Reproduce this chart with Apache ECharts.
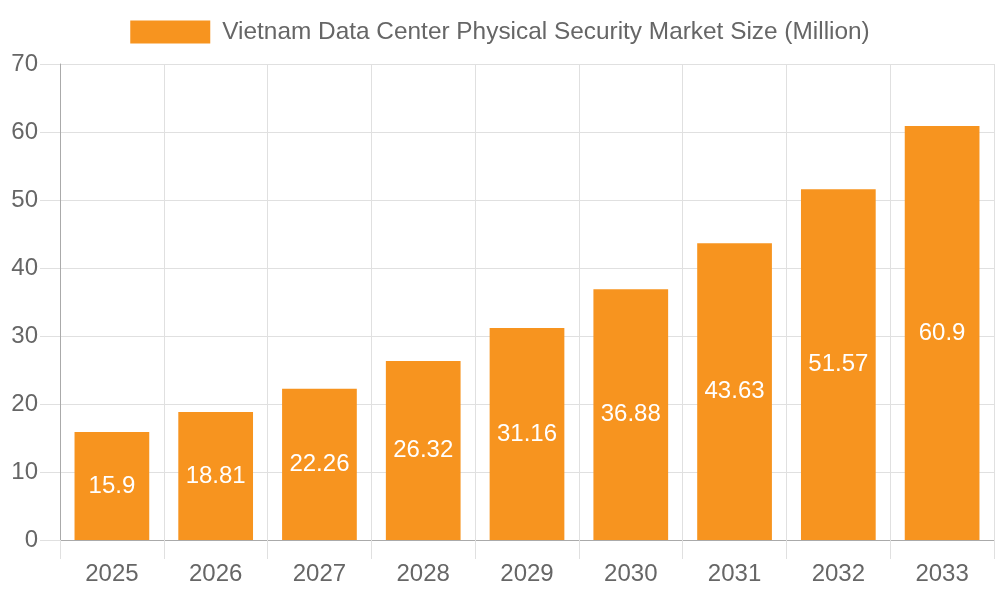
<!DOCTYPE html>
<html><head><meta charset="utf-8">
<script src="https://cdn.jsdelivr.net/npm/echarts@6/dist/echarts.min.js"></script>
<style>html,body{margin:0;padding:0;background:#fff}#c{width:1000px;height:600px}</style>
</head><body><div id="c"></div>
<script>
const categories = ['2025','2026','2027','2028','2029','2030','2031','2032','2033'];
const values = [15.9, 18.81, 22.26, 26.32, 31.16, 36.88, 43.63, 51.57, 60.9];
const seriesName = 'Vietnam Data Center Physical Security Market Size (Million)';
const chart = echarts.init(document.getElementById('c'), null, {renderer:'canvas'});
chart.setOption({
  animation: false,
  textStyle: {fontFamily: 'Liberation Sans, Arial, sans-serif'},
  legend: {
    top: 15, left: 'center',
    itemWidth: 80, itemHeight: 23, itemGap: 10,
    textStyle: {color: '#666', fontSize: 24.4, fontFamily: 'Liberation Sans', padding: [0,0,0,7], lineHeight: 23},
    data: [{name: seriesName, icon: 'rect'}]
  },
  grid: {left: 60, right: 6, top: 64, bottom: 60, containLabel: false},
  xAxis: {
    type: 'category', data: categories, boundaryGap: true,
    axisLine: {show: true, lineStyle: {color: '#aaa', width: 1}},
    axisTick: {show: true, length: 19, lineStyle: {color: '#e0e0e0'}},
    axisLabel: {color: '#666', fontSize: 24, margin: 22, fontFamily: 'Liberation Sans'},
    splitLine: {show: true, lineStyle: {color: '#e0e0e0'}}
  },
  yAxis: {
    type: 'value', min: 0, max: 70, interval: 10,
    axisLine: {show: true, lineStyle: {color: '#aaa', width: 1}},
    axisTick: {show: true, length: 20, lineStyle: {color: '#e0e0e0'}},
    axisLabel: {color: '#666', fontSize: 24, margin: 22, fontFamily: 'Liberation Sans'},
    splitLine: {show: true, lineStyle: {color: '#e0e0e0'}}
  },
  series: [{
    name: seriesName, type: 'bar', data: values,
    barCategoryGap: '28%',
    itemStyle: {color: '#F7941F'},
    label: {show: true, position: 'inside', color: '#fff', fontSize: 24, fontFamily: 'Liberation Sans'}
  }]
});
</script></body></html>
